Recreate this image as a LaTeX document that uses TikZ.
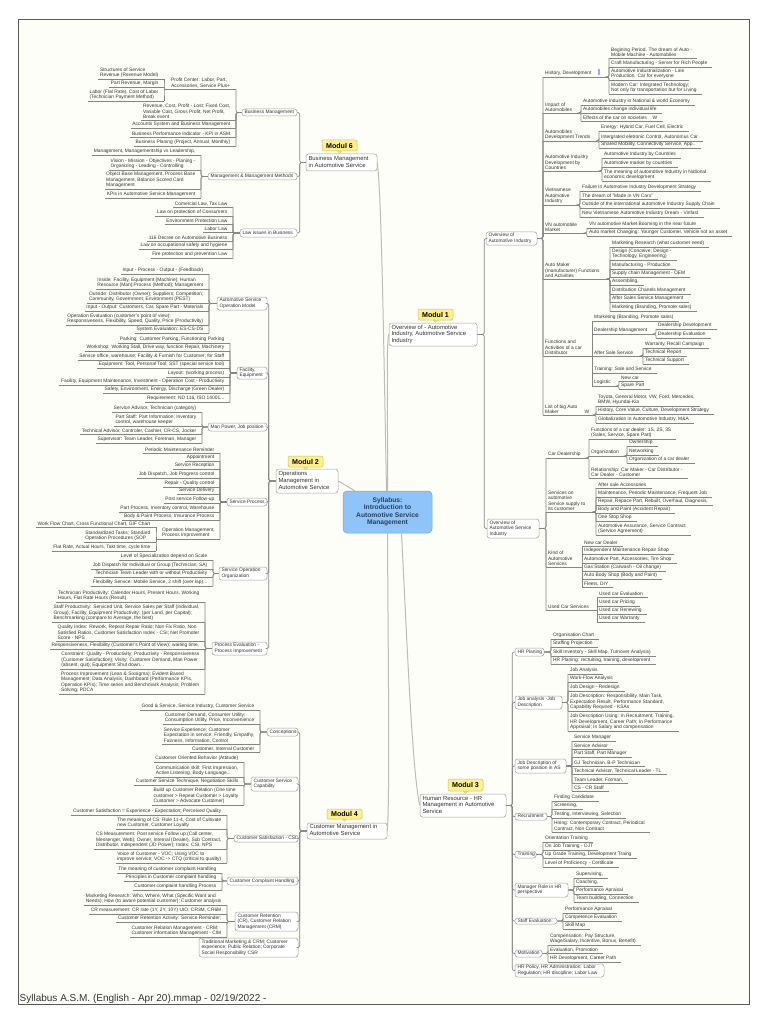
\documentclass[tikz,border=0pt]{standalone}
\usepackage{fontspec}
\setmainfont{Liberation Sans}
\definecolor{paper}{HTML}{FEFEF8}
\definecolor{ink}{HTML}{333333}
\definecolor{wire}{HTML}{858585}
\definecolor{edgegray}{HTML}{A0A0A0}
\definecolor{mainwire}{HTML}{BDBDB8}
\definecolor{tagfill}{HTML}{FFF08C}
\definecolor{tagline}{HTML}{CDBE6E}
\definecolor{hub}{HTML}{8FC4FA}
\definecolor{hubline}{HTML}{7FA0C0}
\definecolor{hubtext}{HTML}{2C3E5A}
\newcommand\smalltxt{\fontsize{4.87}{5.6}\selectfont}
\newcommand\midtxt{\fontsize{5.9}{6.8}\selectfont}
\tikzset{
  x=1pt,y=-1pt,
  leaf/.style={inner xsep=0pt,inner ysep=0.9pt,align=left,text=ink,font=\smalltxt},
  ulline/.style={draw=wire,line width=0.65pt},
  conn/.style={draw=wire,line width=0.65pt,rounded corners=2pt},
  mainconn/.style={draw=mainwire,line width=1pt},
  boxtopic/.style={draw=edgegray,line width=0.5pt,fill=white,rounded corners=2.5pt,inner xsep=2.5pt,inner ysep=0pt,text=ink},
  tag/.style={draw=tagline,line width=0.5pt,fill=tagfill,rounded corners=2pt,font=\fontsize{7.1}{8}\selectfont\bfseries,text=black,inner sep=0pt}
}
% left-hand leaf: underline ends at the bus x
\newcommand\lf[5][]{\node[leaf,anchor=south east,#1] (#2) at ({#3-5.5},#4) {#5};\coordinate (#2-e) at (#3,#4);\coordinate (#2-w) at ([xshift=-1.5pt]#2.south west);\draw[ulline] (#2-w) -- (#2-e);}
% right-hand leaf: underline starts at the bus x
\newcommand\rf[5][]{\node[leaf,anchor=south west,#1] (#2) at ({#3+2},#4) {#5};\coordinate (#2-w) at (#3,#4);\coordinate (#2-e) at ([xshift=5pt]#2.south east);\draw[ulline] (#2-w) -- (#2-e);}
% topic with underline from x-left to x-right that carries its own branch: id, xl, xr, y, text x, text
\newcommand\pf[6]{\node[leaf,anchor=south west] (#1) at (#5,#4) {#6};\coordinate (#1-w) at (#2,#4);\coordinate (#1-e) at (#3,#4);\draw[ulline] (#1-w) -- (#1-e);}
% rounded box by corners
\newcommand\bx[7][\smalltxt]{\pgfmathsetmacro\myw{#5-#3-5}\pgfmathsetmacro\myh{#6-#4}\node[boxtopic,font=#1,minimum width={#5-#3},minimum height=\myh pt] (#2) at ({(#3+#5)/2},{(#4+#6)/2}) {\makebox[\myw pt][l]{\begin{tabular}{@{}l@{}}#7\end{tabular}}};}
% module tag with its small pointer
\newcommand\modtag[6]{\pgfmathsetmacro\myw{#4-#2}\pgfmathsetmacro\myh{#5-#3}\node[tag,minimum width=\myw pt,minimum height=\myh pt] (#1) at ({(#2+#4)/2},{(#3+#5)/2}) {#6};\fill[tagfill,draw=tagline,line width=0.3pt] ([xshift=-2pt]#1.south) -- ++(2,2.2) -- ++(2,-2.2) -- cycle;}
\newcommand\LK[2]{\foreach \c in {#2}{\draw[conn] (#1) -| (\c-e);}}
\newcommand\RK[2]{\foreach \c in {#2}{\draw[conn] (#1) -| (\c-w);}}
\newcommand\BL[3]{\foreach \c in {#3}{\draw[conn] (#1.west) -- ++(-#2,0) |- (\c.east);}}
\newcommand\BR[3]{\foreach \c in {#3}{\draw[conn] (#1.east) -- ++(#2,0) |- (\c.west);}}
\begin{document}
\begin{tikzpicture}
\useasboundingbox (0,0) rectangle (768,1024);
\fill[white] (0,0) rectangle (768,1024);
\draw[draw=black!65,fill=paper,line width=0.9pt] (18.5,19) rectangle (749,1004);
\node[anchor=base west,inner sep=0pt,font=\fontsize{10}{12}\selectfont,text=ink] (footer) at (19.5,1001) {Syllabus A.S.M. (English - Apr 20).mmap - 02/19/2022 -};

% ---- central and module boxes
\node[draw=hubline,line width=0.5pt,fill=hub,rounded corners=4pt,minimum width=89pt,minimum height=42pt,inner sep=0pt,align=center,font=\fontsize{6.7}{7.5}\selectfont\bfseries,text=hubtext] (hubnode) at (387.5,512) {Syllabus:\\Introduction to\\Automotive Service\\Management};
\bx[\midtxt]{mA}{389}{323}{477}{346}{Overview of - Automotive\\Industry, Automotive Service\\Industry}
\modtag{tA}{418}{309}{453}{320}{Modul 1}
\bx[\midtxt]{mB}{276}{469}{338}{493}{Operations\\Management in\\Automotive Service}
\modtag{tB}{288}{456}{323}{467}{Modul 2}
\bx[\midtxt]{mC}{420}{794}{506}{817}{Human Resource - HR\\Management in Automotive\\Service}
\modtag{tC}{448}{779}{483}{791}{Modul 3}
\bx[\midtxt]{mD}{307}{823}{387}{839}{Customer Management in\\Automotive Service}
\modtag{tD}{327}{809}{362}{819}{Modul 4}
\bx[\midtxt]{mF}{306}{154}{377}{171}{Business Management\\in Automotive Service}
\modtag{tF}{322}{140}{357}{151}{Modul 6}

\draw[mainconn] ([xshift=-1pt]hubnode.north) .. controls (383,300) and (381,190) .. (mF.east);
\draw[mainconn] ([xshift=0pt]hubnode.north) .. controls (388,420) and (386,345) .. (mA.west);
\draw[mainconn] (hubnode.north west) ++(12,0) -- (mB.east);
\draw[mainconn] ([xshift=14pt]hubnode.south) .. controls (407,640) and (412,770) .. (mC.west);
\draw[mainconn] ([xshift=0pt]hubnode.south) .. controls (388,640) and (390,800) .. (mD.east);

% ---- MODUL 1 right side
\bx{oA}{486}{232}{537}{245}{Overview of\\Automotive Industry}
\bx{oS}{487}{519}{539}{538}{Overview of\\Automotive Service\\Industry}
\BR{mA}{7}{oA,oS}

\pf{hA}{543}{608}{77}{545}{History, Development}
\fill[blue!35] (598,69) rectangle (600,75);
\pf{hB}{543}{580}{113}{545}{Impact of\\Automobiles}
\pf{hC}{543}{598}{141}{545}{Automobiles\\Development Trends}
\pf{hD}{543}{601}{171}{545}{Automotive Industry\\Development by\\Countries}
\pf{hE}{543}{579}{205}{545}{Vietnamese\\Automotive\\Industry}
\pf{hF}{543}{586}{233}{545}{VN automobile\\Market}
\pf{hG}{543}{609}{279}{545}{Auto Maker\\(manufacturer) Functions\\and Activities}
\pf{hH}{543}{592}{356}{545}{Functions and\\Activities of a car\\Distributor}
\pf{hI}{543}{595}{415}{545}{List of big Auto\\Maker\hspace{26pt}W}
\RK{oA.east}{hA,hB,hC,hD,hE,hF,hG,hH,hI}

\rf{hA1}{609}{58}{Begining Period. The dream of Auto -\\Mobile Machine - Automobiles}
\rf{hA2}{609}{67}{Craft Manufacturing - Server for Rich People}
\rf{hA3}{609}{80}{Automotive Industrialization - Line\\Production. Car for everyone}
\rf{hA4}{609}{94}{Modern Car: Integrated Technology;\\Not only for transportation but for Living}
\RK{hA-e}{hA1,hA2,hA3,hA4}

\rf{hB1}{581}{105}{Automotive Industry in National \& world Economy}
\rf{hB2}{581}{113}{Automobiles change individual life}
\rf{hB3}{581}{121}{Effects of the car on societies\hspace{6pt}W}
\RK{hB-e}{hB1,hB2,hB3}

\rf{hC1}{599}{131}{Energy: Hybrid Car, Fuel Cell, Electric}
\rf{hC2}{599}{141}{Intergrated eletronic Control, Autonomus Car}
\rf{hC3}{599}{148}{Shared Mobility, Connectivity Service, App..}
\RK{hC-e}{hC1,hC2,hC3}

\rf{hD1}{602}{158}{Automotive Industry by Countries}
\rf{hD2}{602}{167}{Automotive market by countries}
\rf{hD3}{602}{181}{The meaning of automotive Industry in National\\economic development}
\RK{hD-e}{hD1,hD2,hD3}

\rf{hE1}{580}{191}{Failure in Automotive Industry Development Strategy}
\rf{hE2}{580}{199}{The dream of "Made in VN Cars"}
\rf{hE3}{580}{208}{Outside of the international automotive Industry Supply Chain}
\rf{hE4}{580}{217}{New Vietnamese Automotive Industry Dream - Vinfast}
\RK{hE-e}{hE1,hE2,hE3,hE4}

\rf{hF1}{587}{228}{VN automotive Market Booming in the near future}
\rf{hF2}{587}{236}{Auto market Changing: Younger Customer, Vehicle not an asset}
\RK{hF-e}{hF1,hF2}

\rf{hG1}{610}{247}{Marketing Research (what customer need)}
\rf{hG2}{610}{260}{Design (Conceive; Design -\\Technology, Engineering)}
\rf{hG3}{610}{269}{Manufacturing - Production}
\rf{hG4}{610}{277}{Supply chain Management - OEM}
\rf{hG5}{610}{285}{Assembling,}
\rf{hG6}{610}{294}{Distribution Chanels Management}
\rf{hG7}{610}{302}{After Sales Service Management}
\rf{hG8}{610}{311}{Marketing (Branding, Promote sales)}
\RK{hG-e}{hG1,hG2,hG3,hG4,hG5,hG6,hG7,hG8}

\rf{hH1}{592}{321}{Marketing (Branding, Promote sales)}
\pf{hH2}{592}{655}{334}{594}{Dealership Management}
\pf{hH3}{592}{642}{356}{594}{After Sale Service}
\rf{hH4}{592}{373}{Training: Sale and Service}
\pf{hH5}{592}{618}{386}{594}{Logistic}
\RK{hH-e}{hH1,hH2,hH3,hH4,hH5}
\rf{hH21}{656}{329}{Dealership Development}
\rf{hH22}{656}{338}{Dealership Evaluation}
\RK{hH2-e}{hH21,hH22}
\rf{hH31}{643}{348}{Warranty, Recall Campaign}
\rf{hH32}{643}{356}{Technical Report}
\rf{hH33}{643}{364}{Technical Support}
\RK{hH3-e}{hH31,hH32,hH33}
\rf{hH51}{619}{381}{New car}
\rf{hH52}{619}{389}{Spare Part}
\RK{hH5-e}{hH51,hH52}

\rf{hI1}{596}{406}{Toyota, General Motor, VW, Ford, Mercedes,\\BMW, Hyundai-Kia}
\rf{hI2}{596}{414}{History, Core Value, Culture, Development Strategy}
\rf{hI3}{596}{423}{Globalization in Automotive Industry, M\&A}
\RK{hI-e}{hI1,hI2,hI3}

% service industry
\pf{sA}{546}{588}{458}{548}{Car Dealership}
\pf{sB}{546}{595}{512}{548}{Services on\\automotive\\Service supply to\\its customer}
\pf{sC}{546}{582}{567}{548}{Kind of\\Automotive\\Services}
\pf{sD}{546}{597}{610}{548}{Used Car Services}
\RK{oS.east}{sA,sB,sC,sD}

\rf{sA1}{589}{439}{Functions of a car dealer: 1S, 2S, 3S\\(Sales, Service, Spare Part)}
\pf{sA2}{589}{626}{456}{591}{Organization}
\rf{sA3}{589}{478}{Relationship: Car Maker - Car Distributor -\\Car Dealer - Customer}
\RK{sA-e}{sA1,sA2,sA3}
\rf{sA21}{627}{446}{Ownership}
\rf{sA22}{627}{455}{Networking}
\rf{sA23}{627}{463}{Organization of a car dealer}
\RK{sA2-e}{sA21,sA22,sA23}

\rf{sB1}{596}{488}{After sale Accessories}
\rf{sB2}{596}{497}{Maintenance, Periodic Maintenance, Frequent Job}
\rf{sB3}{596}{505}{Repair, Repace Part, Rebuilt, Overhaul, Diagnosis,}
\rf{sB4}{596}{513}{Body and Paint (Accident Repair)}
\rf{sB5}{596}{521}{One Stop Shop}
\rf{sB6}{596}{535}{Automotive Assurance, Service Contract\\(Service Agreement)}
\RK{sB-e}{sB1,sB2,sB3,sB4,sB5,sB6}

\rf{sC1}{582}{546}{New car  Dealer}
\rf{sC2}{582}{554}{Independent Maintenance Repair Shop}
\rf{sC3}{582}{563}{Automotive Part, Accessories, Tire Shop}
\rf{sC4}{582}{571}{Gas Station (Carwash - Oil change)}
\rf{sC5}{582}{579}{Auto Body Shop (Body and Paint)}
\rf{sC6}{582}{587}{Fleets, DIY}
\RK{sC-e}{sC1,sC2,sC3,sC4,sC5,sC6}

\rf{sD1}{597}{597}{Used car Evaluation}
\rf{sD2}{597}{606}{Used car Pricing}
\rf{sD3}{597}{614}{Used car Renewing}
\rf{sD4}{597}{622}{Used car Warranty}
\RK{sD-e}{sD1,sD2,sD3,sD4}

% ---- MODUL 3 HR
\bx{cA}{515}{648}{544}{656}{HR Planing}
\bx{cB}{515}{696}{562}{709}{Job analysis -Job\\Description}
\bx{cC}{515}{759}{566}{773}{Job Description of\\some position in AS}
\bx{cD}{515}{813}{547}{820}{Recruitment}
\bx{cE}{515}{851}{536}{858}{Training}
\bx{cF}{515}{883}{568}{897}{Manager Role in HR\\perspective}
\bx{cG}{515}{918}{557}{924}{Staff Evaluation}
\bx{cH}{515}{950}{542}{957}{Motivation}
\bx{cI}{515}{964}{604}{977}{HR Policy, HR Administration: Labor\\Regulation; HR discipline; Labor Law}
\BR{mC}{6}{cA,cB,cC,cD,cE,cF,cG,cH,cI}

\rf{cA1}{551}{639}{Organisation Chart}
\rf{cA2}{551}{647}{Staffing Projection}
\rf{cA3}{551}{656}{Skill Inventory - Skill Map, Turnover Analysis)}
\rf{cA4}{551}{664}{HR Planing: recruiting, training, development}
\RK{cA.east}{cA1,cA2,cA3,cA4}

\rf{cB1}{568}{674}{Job Analysis}
\rf{cB2}{568}{682}{Work-Flow Analysis}
\rf{cB3}{568}{691}{Job Design - Redesign}
\rf{cB4}{568}{711}{Job Description: Responsibility, Main Task,\\Expectation Result, Performance Standard,\\Capability Required - KSAs}
\rf{cB5}{568}{731}{Job Description Using: In Recruitment, Training,\\HR Development, Career Path; In Performance\\Appraisal; In Salary and compensation}
\RK{cB.east}{cB1,cB2,cB3,cB4,cB5}

\rf{cC1}{572}{741}{Service Manager}
\rf{cC2}{572}{749}{Service Advisor}
\rf{cC3}{572}{757}{Part Staff, Part Manager}
\rf{cC4}{572}{766}{GJ Technician, B-P Technician}
\rf{cC5}{572}{774}{Technical Advisor, Technical Leader - TL}
\rf{cC6}{572}{783}{Team Leader, Forman,}
\rf{cC7}{572}{791}{CS - CR Staff}
\RK{cC.east}{cC1,cC2,cC3,cC4,cC5,cC6,cC7}

\rf{cD1}{552}{801}{Finding Candidate}
\rf{cD2}{552}{809}{Screening,}
\rf{cD3}{552}{818}{Testing, Interviewing, Selection}
\rf{cD4}{552}{832}{Hiring: Contemporary Contract, Periodical\\Contract, Non Contract}
\RK{cD.east}{cD1,cD2,cD3,cD4}

\rf{cE1}{543}{842}{Orientation Training}
\rf{cE2}{543}{850}{On Job Training - OJT}
\rf{cE3}{543}{858}{Up Grade Training, Development Traing}
\rf{cE4}{543}{867}{Level of Proficiency - Certificate}
\RK{cE.east}{cE1,cE2,cE3,cE4}

\rf{cF1}{574}{878}{Supervising,}
\rf{cF2}{574}{886}{Coaching,}
\rf{cF3}{574}{894}{Performance Apraisal}
\rf{cF4}{574}{902}{Team building, Connection}
\RK{cF.east}{cF1,cF2,cF3,cF4}

\rf{cG1}{563}{913}{Performance Apraisal}
\rf{cG2}{563}{921}{Competence Evaluation}
\rf{cG3}{563}{929}{Skill Map}
\RK{cG.east}{cG1,cG2,cG3}

\rf{cH1}{548}{945}{Compensation: Pay Structure,\\Wage/Salary, Incentive, Bonus, Benefit)}
\rf{cH2}{548}{953}{Evaluation, Promotion}
\rf{cH3}{548}{962}{HR Development, Career Path}
\RK{cH.east}{cH1,cH2,cH3}

% ---- MODUL 6 left
\bx{fA}{242}{109}{297}{116}{Business Management}
\bx{fB}{208}{173}{297}{180}{Management \& Management Methods}
\bx{fC}{240}{229}{297}{237}{Law issues in Business}
\BL{mF}{6}{fA,fB,fC}

\pf{fA1}{164}{236}{89}{171}{Profit Center: Labor, Part,\\Accessories, Service Plus+}
\lf{fA2}{236}{120}{Revenue, Cost, Profit - Lost; Fixed Cost,\\Variable Cost, Gross Profit, Net Profit,\\Break event}
\lf{fA3}{236}{128}{Accounts System and Business Management}
\lf{fA4}{236}{137}{Business Performance Indicator - KPI in ASM}
\lf{fA5}{236}{146}{Business Planing (Project, Annual, Monthly)}
\LK{fA.west}{fA1,fA2,fA3,fA4,fA5}
\lf{fA11}{164}{79}{Structures of Service\\Revenue (Revenue Model)}
\lf{fA12}{164}{87}{Part Revenue, Margin}
\lf{fA13}{164}{101}{Labor (Flat Rate), Cost of Labor\\(Technician Payment Method)}
\LK{fA1-w}{fA11,fA12,fA13}

\lf{fB1}{201}{155}{Management, Managementship vs Leadership,}
\lf{fB2}{201}{170}{Vision - Mission - Objectives - Planing -\\Organizing - Leading - Controlling}
\lf{fB3}{201}{189}{Object Base Management, Process Base\\Management, Balance Scored Card\\Management}
\lf{fB4}{201}{198}{KPIs in Automotive Service Management}
\LK{fB.west}{fB1,fB2,fB3,fB4}

\lf{fC1}{233}{207}{Comercial Law, Tax Law}
\lf{fC2}{233}{216}{Law on protection of Consumers}
\lf{fC3}{233}{224}{Environment Protection Law}
\lf{fC4}{233}{232}{Labor Law}
\lf{fC5}{233}{241}{116 Decree on Automotive Business}
\lf{fC6}{233}{249}{Law on occupational safety and hygiene}
\lf{fC7}{233}{258}{Fire protection and prevention Law}
\LK{fC.west}{fC1,fC2,fC3,fC4,fC5,fC6,fC7}

% ---- MODUL 2 left
\bx{bA}{217}{297}{267}{310}{Automotive Service\\Operation Model}
\bx{bB}{237}{367}{267}{379}{Facility,\\Equipment}
\bx{bC}{208}{423}{267}{431}{Man Power, Job position}
\bx{bD}{227}{498}{267}{506}{Service Process}
\bx{bE}{219}{567}{267}{580}{Service Operation\\Organization}
\bx{bF}{212}{642}{267}{655}{Process Evaluation -\\Process Improvement}
\BL{mB}{7}{bA,bB,bC,bD,bE,bF}

\lf{bA1}{209}{274}{Input - Process - Output - (Feedback)}
\lf{bA2}{209}{289}{Inside: Facility, Equipment (Machine); Human\\Resource (Man);Process (Method); Management}
\lf{bA3}{209}{303}{Outside: Distributor (Owner); Suppliers; Competition;\\Community, Government; Environment (PEST)}
\lf{bA4}{209}{311}{Input - Output: Customers, Car, Spare Part - Materials}
\lf{bA5}{209}{325}{Operation Evaluation (customer's point of view):\\Responsiveness,  Flexibility, Speed, Quality, Price (Productivity)}
\lf{bA6}{209}{333}{System Evaluation:  ES-CS-DS}
\LK{bA.west}{bA1,bA2,bA3,bA4,bA5,bA6}

\lf{bB1}{230}{343}{Parking: Customer Parking, Functioning Parking}
\lf{bB2}{230}{351}{Workshop: Working Stall, Drive way, function Repair, Machinery}
\lf{bB3}{230}{360}{Service office, warehouse; Facility \& Furnish for Customer; for Staff}
\lf{bB4}{230}{368}{Equipment: Tool,  Personal Tool, SST (special service tool)}
\lf{bB5}{230}{377}{Layout:  (working process)}
\lf{bB6}{230}{385}{Facility, Equipment Maintenance, Investment - Operation Cost - Productivity}
\lf{bB7}{230}{393}{Safety, Environment, Energy, Discharge (Green Dealer)}
\lf{bB8}{230}{402}{Requirement: ND 116, ISO 14001...}
\LK{bB.west}{bB1,bB2,bB3,bB4,bB5,bB6,bB7,bB8}

\lf{bC1}{202}{412}{Service Advisor, Technician (category)}
\lf{bC2}{202}{426}{Part Staff: Part Information; Inventory\\control, warehouse keeper}
\lf{bC3}{202}{434}{Technical Advisor, Controler, Cashier,  CR-CS, Jocker}
\lf{bC4}{202}{443}{Supervisor: Team Leader, Foreman, Manager}
\LK{bC.west}{bC1,bC2,bC3,bC4}

\lf{bD1}{220}{453}{Periodic Maintenance Reminder}
\lf{bD2}{220}{461}{Appointment}
\lf{bD3}{220}{469}{Service Reception}
\lf{bD4}{220}{478}{Job Dispatch, Job Progress control}
\lf{bD5}{220}{487}{Repair - Quality control}
\lf{bD6}{220}{494}{Service Delivery}
\lf{bD7}{220}{503}{Post service Follow-up}
\lf{bD8}{220}{512}{Part Process, Inventory control, Warehouse}
\lf{bD9}{220}{520}{Body \& Paint Process, Insurance Process}
\pf{bD10}{156}{220}{539}{162}{Operation Management,\\Process Improvement}
\LK{bD.west}{bD1,bD2,bD3,bD4,bD5,bD6,bD7,bD8,bD9,bD10}
\lf{bDa}{156}{527}{Work Flow Chart, Cross Functional Chart, GIF Chart}
\lf{bDb}{156}{542}{Standardized Tasks; Standard\\Operation Procedures (SOP}
\lf{bDc}{156}{551}{Flat Rate, Actual Hours, Takt time, cycle time}
\LK{bD10-w}{bDa,bDb,bDc}

\lf{bE1}{213}{560}{Level of Specialization depend on Scale}
\lf{bE2}{213}{569}{Job Dispatch for Individual or Group (Technician, SA)}
\lf{bE3}{213}{577}{Technician Team Leader with or without Productivity}
\lf{bE4}{213}{586}{Flexibility Service: Mobile Service, 2 shift (over lap)...}
\LK{bE.west}{bE1,bE2,bE3,bE4}

\lf{bF1}{205}{602}{Technician Productivity: Calender Hours, Present Hours, Working\\Hours, Flat Rate Hours (Result)}
\lf{bF2}{205}{622}{Staff Productivity: Serviced Unit, Service Sales per Staff (Individual,\\Group); Facility, Equipment Productivity: (per Land, per Capital);\\Benchmarking (compare to Average, the best)}
\lf{bF3}{205}{641}{Quality Index: Rework, Repeat Repair Ratio; Non Fix Ratio, Non\\Satisfied Ratios, Customer Satisfaction Index - CSI; Net Promoter\\Score - NPS}
\lf{bF4}{205}{649}{Responsiveness, Flexibility (Customer's Point of View): waiting time,}
\lf{bF5}{205}{669}{Constraint: Quality - Productivity; Productivity - Responsiveness\\(Customer Satisfaction); Visity: Customer Demand, Man Power\\(absent, quit); Equipment Shut down...}
\lf{bF6}{205}{694}{Process Improvement (Lean \& Sixsigma); Evident Based\\Management; Data Analysis, Dashboard (Performance KPIs,\\Operation KPIs); Time series and Benchmark Analysis;  Problem\\Solving;  PDCA}
\LK{bF.west}{bF1,bF2,bF3,bF4,bF5,bF6}

% ---- MODUL 4 left
\bx{dA}{267}{728}{298}{736}{Conceptions}
\bx{dB}{251}{777}{298}{791}{Customer Service\\Capability}
\bx{dC}{234}{835}{298}{842}{Customer Satisfaction - CSI}
\bx{dD}{227}{877}{298}{885}{Customer Complaint Handling}
\bx{dE}{235}{912}{298}{931}{Customer Retention\\(CR), Customer Relation\\Management (CRM)}
\bx{dF}{199}{938}{298}{957}{Traditional Marketing \& CRM; Customer\\experience; Public Relation; Corporate\\Social Responsibility CSR}
\BL{mD}{7}{dA,dB,dC,dD,dE,dF}

\lf{dA1}{260}{710}{Good \& Service, Service Industry, Customer Service}
\lf{dA2}{260}{724}{Customer Demand, Consumer Utility;\\Consumption Utility, Price, Inconvenience}
\lf{dA3}{260}{744}{Service Experience; Customer\\Expectation in service: Friendly, Empathy,\\Fairness, Information, Control}
\lf{dA4}{260}{752}{Customer, Internal Customer}
\LK{dA.west}{dA1,dA2,dA3,dA4}

\lf{dB1}{244}{762}{Customer Oriented Behavior (Attitude)}
\lf{dB2}{244}{777}{Communication skill: First Impression,\\Active Listening, Body Language...}
\lf{dB3}{244}{785}{Customer Service Technique, Negotiation Skills}
\lf{dB4}{244}{805}{Build up Customer Relation (One time\\customer > Repeat Customer > Loyalty\\Customer > Advocate Customer)}
\LK{dB.west}{dB1,dB2,dB3,dB4}

\lf{dC1}{227}{815}{Customer Satisfaction = Experience - Expectation; Perceived Quality}
\lf{dC2}{227}{829}{The meaning of CS: Rule 11-4, Cost of Cultivate\\new Customer, Customer Loyalty}
\lf{dC3}{227}{849}{CS Measurement: Post service Follow up (Call center,\\Messenger, Web); Owner, Internal (Dealer), Sub Contract,\\Distributor, Independent (JD Power); Index: CSI, NPS}
\lf{dC4}{227}{863}{Voice of Customer - VOC; Using VOC to\\improve service; VOC -> CTQ (critical to quality)}
\LK{dC.west}{dC1,dC2,dC3,dC4}

\lf{dD1}{222}{873}{The meaning of customer complaint Handling}
\lf{dD2}{222}{881}{Principles in Customer complaint handling}
\lf{dD3}{222}{890}{Customer complaint handling Process}
\LK{dD.west}{dD1,dD2,dD3}

\lf{dE1}{227}{905}{Marketing Research: Who, Where, What (Specific Want and\\Needs), How (to aware potential customer); Customer analysis}
\lf{dE2}{227}{914}{CR measurement: CR rate (1Y, 2Y, 10Y) UIO; CR3M, CR6M}
\lf{dE3}{227}{922}{Customer Retention Activity: Service Reminder;}
\lf{dE4}{227}{937}{Customer Relation Management - CRM;\\Customer information Management - CIM}
\LK{dE.west}{dE1,dE2,dE3,dE4}
\end{tikzpicture}
\end{document}
